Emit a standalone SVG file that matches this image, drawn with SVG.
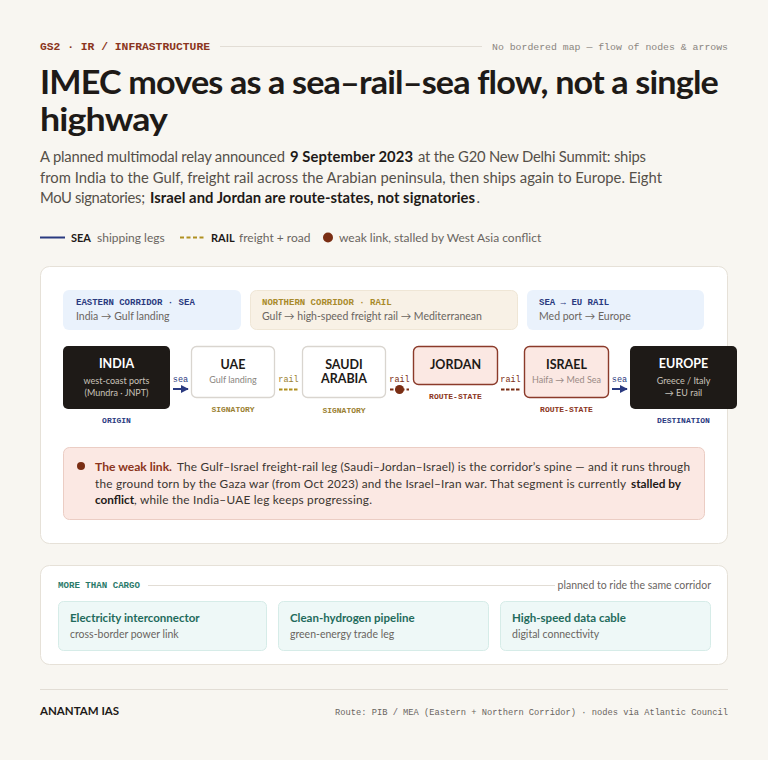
<svg xmlns="http://www.w3.org/2000/svg" width="768" height="760" viewBox="0 0 768 760">
<defs>
<style>
.sans{font-family:Lato,Roboto,"Liberation Sans",sans-serif}
.mono{font-family:"Liberation Mono","DejaVu Sans Mono",monospace}
.b{font-weight:700}
.card{fill:#ffffff;stroke:#e6e1d8;stroke-width:1}
.dark{fill:#1e1a17}
.light{fill:#ffffff;stroke:#d9d5cf;stroke-width:1.3}
.route{fill:#fbe8e3;stroke:#8b3a2a;stroke-width:1.4}
.nt{font-family:Lato,Roboto,"Liberation Sans",sans-serif;font-weight:700;font-size:12.5px;text-anchor:middle}
.ns{font-family:Lato,Roboto,"Liberation Sans",sans-serif;font-size:9px;text-anchor:middle}
.tag{font-family:"Liberation Mono","DejaVu Sans Mono",monospace;font-weight:700;font-size:8px;text-anchor:middle}
.cl{font-family:"Liberation Mono","DejaVu Sans Mono",monospace;font-size:8.5px;text-anchor:middle}
.sub{fill:#555049;font-size:14.8px}
.strong{fill:#1e1a17;font-weight:700}
.wl{fill:#3a3530;font-size:11.8px}
.wb{fill:#1e1a17;font-weight:700;font-size:11.8px}
.cargo{fill:#eef8f7;stroke:#d6ece8;stroke-width:1}
</style>
<marker id="arr" viewBox="0 0 10 10" refX="9" refY="5" markerWidth="4" markerHeight="4" orient="auto"><path d="M0,0 L10,5 L0,10 z" fill="#2a3a80"/></marker>
</defs>
<rect width="768" height="760" fill="#f8f6f1"/>

<g id="header">
<text x="40" y="50" class="mono b" font-size="11" fill="#8b3520" textLength="170" lengthAdjust="spacingAndGlyphs">GS2 · IR / INFRASTRUCTURE</text>
<line x1="220" y1="46.5" x2="482" y2="46.5" stroke="#e2ddd5" stroke-width="1"/>
<text x="728" y="50" class="mono" font-size="9.5" fill="#8a8580" text-anchor="end" textLength="236" lengthAdjust="spacingAndGlyphs">No bordered map — flow of nodes &amp; arrows</text>
<text x="40" y="94" class="sans" font-weight="700" font-size="32" fill="#1e1a17" letter-spacing="-0.8" textLength="678" lengthAdjust="spacingAndGlyphs">IMEC moves as a sea–rail–sea flow, not a single</text>
<text x="40" y="131" class="sans" font-weight="700" font-size="32" fill="#1e1a17" letter-spacing="-0.8" textLength="127" lengthAdjust="spacingAndGlyphs">highway</text>
<text x="40" y="162" class="sans sub" textLength="245" lengthAdjust="spacing">A planned multimodal relay announced</text>
<text x="290" y="162" class="sans sub strong" textLength="123" lengthAdjust="spacing">9 September 2023</text>
<text x="418" y="162" class="sans sub" textLength="228" lengthAdjust="spacing">at the G20 New Delhi Summit: ships</text>
<text x="40" y="183" class="sans sub" textLength="622" lengthAdjust="spacing">from India to the Gulf, freight rail across the Arabian peninsula, then ships again to Europe. Eight</text>
<text x="40" y="203" class="sans sub" textLength="105" lengthAdjust="spacing">MoU signatories;</text>
<text x="150" y="203" class="sans sub strong" textLength="325" lengthAdjust="spacing">Israel and Jordan are route-states, not signatories</text>
<text x="476.5" y="203" class="sans sub">.</text>
</g>

<g id="legend">
<line x1="40" y1="237.5" x2="65" y2="237.5" stroke="#2a3a80" stroke-width="2"/>
<text x="71" y="241.5" class="sans b" font-size="11" fill="#1e1a17">SEA</text>
<text x="97" y="241.5" class="sans" font-size="12" fill="#6a655f">shipping legs</text>
<line x1="180" y1="237.5" x2="205" y2="237.5" stroke="#b09020" stroke-width="2" stroke-dasharray="4,2.5"/>
<text x="211" y="241.5" class="sans b" font-size="11" fill="#1e1a17">RAIL</text>
<text x="239" y="241.5" class="sans" font-size="12" fill="#6a655f">freight + road</text>
<circle cx="328" cy="237.5" r="5" fill="#7a2e14"/>
<text x="339" y="241.5" class="sans" font-size="12" fill="#6a655f">weak link, stalled by West Asia conflict</text>
</g>

<rect x="40.5" y="266.5" width="687" height="277" rx="9" class="card"/>

<g id="corridor-eastern">
<rect x="63" y="290" width="178" height="40" rx="6" fill="#eaf2fc"/>
<text x="76" y="305" class="mono b" font-size="9" fill="#2a3a80">EASTERN CORRIDOR · SEA</text>
<text x="76" y="320" class="sans" font-size="10.5" fill="#6a655f">India → Gulf landing</text>
</g>
<g id="corridor-northern">
<rect x="250.5" y="290.5" width="267" height="39" rx="6" fill="#f8f1e6" stroke="#efe6d6"/>
<text x="262" y="305" class="mono b" font-size="9" fill="#a88a2a">NORTHERN CORRIDOR · RAIL</text>
<text x="262" y="320" class="sans" font-size="10.5" fill="#6a655f">Gulf → high-speed freight rail → Mediterranean</text>
</g>
<g id="corridor-sea-eu">
<rect x="527" y="290" width="177" height="40" rx="6" fill="#eaf2fc"/>
<text x="539" y="305" class="mono b" font-size="9" fill="#2a3a80">SEA → EU RAIL</text>
<text x="539" y="320" class="sans" font-size="10.5" fill="#6a655f">Med port → Europe</text>
</g>

<g id="node-india">
<rect x="63" y="346" width="107" height="63" rx="5" class="dark"/>
<text x="116.5" y="368" class="nt" fill="#ffffff">INDIA</text>
<text x="116.5" y="384" class="ns" fill="#c9c2ba">west-coast ports</text>
<text x="116.5" y="396" class="ns" fill="#c9c2ba">(Mundra · JNPT)</text>
<text x="116.5" y="423" class="tag" fill="#2a3a80">ORIGIN</text>
</g>
<g id="node-uae">
<rect x="191.5" y="346.5" width="83" height="51" rx="5" class="light"/>
<text x="233" y="369" class="nt" fill="#1e1a17">UAE</text>
<text x="233" y="383" class="ns" fill="#8a8580">Gulf landing</text>
<text x="233" y="412" class="tag" fill="#9a8030">SIGNATORY</text>
</g>
<g id="node-saudi">
<rect x="302.5" y="346.5" width="83" height="51" rx="5" class="light"/>
<text x="344" y="369" class="nt" fill="#1e1a17">SAUDI</text>
<text x="344" y="383" class="nt" fill="#1e1a17">ARABIA</text>
<text x="344" y="413" class="tag" fill="#9a8030">SIGNATORY</text>
</g>
<g id="node-jordan">
<rect x="413.5" y="346.5" width="84" height="38" rx="5" class="route"/>
<text x="455.5" y="369" class="nt" fill="#1e1a17">JORDAN</text>
<text x="455.5" y="399" class="tag" fill="#8b3520">ROUTE-STATE</text>
</g>
<g id="node-israel">
<rect x="524.5" y="346.5" width="84" height="51" rx="5" class="route"/>
<text x="566.5" y="369" class="nt" fill="#1e1a17">ISRAEL</text>
<text x="566.5" y="383" class="ns" fill="#9a8a85">Haifa → Med Sea</text>
<text x="566.5" y="412" class="tag" fill="#8b3520">ROUTE-STATE</text>
</g>
<g id="node-europe">
<rect x="630" y="346" width="107" height="63" rx="5" class="dark"/>
<text x="683.5" y="368" class="nt" fill="#ffffff">EUROPE</text>
<text x="683.5" y="384" class="ns" fill="#c9c2ba">Greece / Italy</text>
<text x="683.5" y="396" class="ns" fill="#c9c2ba">→ EU rail</text>
<text x="683.5" y="423" class="tag" fill="#2a3a80">DESTINATION</text>
</g>

<g id="connectors">
<text x="180.5" y="382" class="cl" fill="#2a3a80">sea</text>
<line x1="173" y1="389" x2="188" y2="389" stroke="#2a3a80" stroke-width="2" marker-end="url(#arr)"/>
<text x="288.5" y="382" class="cl" fill="#9a8030">rail</text>
<line x1="279" y1="389.5" x2="298" y2="389.5" stroke="#b09020" stroke-width="2" stroke-dasharray="3.5,1.5"/>
<text x="399.5" y="382" class="cl" fill="#7a2e14">rail</text>
<line x1="390" y1="389.5" x2="409" y2="389.5" stroke="#7a2e14" stroke-width="2" stroke-dasharray="3.5,2"/>
<circle cx="399.5" cy="389.5" r="4.5" fill="#7a2e14"/>
<text x="510.5" y="382" class="cl" fill="#7a2e14">rail</text>
<line x1="501" y1="389.5" x2="520" y2="389.5" stroke="#7a2e14" stroke-width="2" stroke-dasharray="3.5,1.5"/>
<text x="619.5" y="382" class="cl" fill="#2a3a80">sea</text>
<line x1="612" y1="389" x2="627" y2="389" stroke="#2a3a80" stroke-width="2" marker-end="url(#arr)"/>
</g>

<g id="weak-link">
<rect x="63.5" y="447.5" width="641" height="72" rx="6" fill="#fbe8e3" stroke="#ebcdc4"/>
<circle cx="81" cy="466" r="4" fill="#7a2e14"/>
<text x="95" y="471" class="sans wb" style="fill:#8b3520" textLength="77" lengthAdjust="spacingAndGlyphs">The weak link.</text>
<text x="177" y="471" class="sans wl" textLength="513" lengthAdjust="spacing">The Gulf–Israel freight-rail leg (Saudi–Jordan–Israel) is the corridor’s spine — and it runs through</text>
<text x="95" y="488" class="sans wl" textLength="531" lengthAdjust="spacing">the ground torn by the Gaza war (from Oct 2023) and the Israel–Iran war. That segment is currently</text>
<text x="631" y="488" class="sans wb" textLength="50" lengthAdjust="spacing">stalled by</text>
<text x="95" y="504" class="sans wb" textLength="39" lengthAdjust="spacingAndGlyphs">conflict</text>
<text x="134" y="504" class="sans wl" textLength="238" lengthAdjust="spacing">, while the India–UAE leg keeps progressing.</text>
</g>

<g id="more-than-cargo">
<rect x="40.5" y="565.5" width="687" height="99" rx="9" class="card"/>
<text x="58" y="588" class="mono b" font-size="9" fill="#2a7a6a" textLength="82" lengthAdjust="spacingAndGlyphs">MORE THAN CARGO</text>
<line x1="148" y1="585.5" x2="555" y2="585.5" stroke="#e2ddd5"/>
<text x="711" y="589" class="sans" font-size="10.5" fill="#6a655f" text-anchor="end">planned to ride the same corridor</text>
<g id="cargo-electricity">
<rect x="58.5" y="601.5" width="208" height="49" rx="5" class="cargo"/>
<text x="70" y="622" class="sans" font-weight="700" font-size="11.5" fill="#1f6b5c">Electricity interconnector</text>
<text x="70" y="638" class="sans" font-size="10.5" fill="#6a655f">cross-border power link</text>
</g>
<g id="cargo-hydrogen">
<rect x="278.5" y="601.5" width="210" height="49" rx="5" class="cargo"/>
<text x="290" y="622" class="sans" font-weight="700" font-size="11.5" fill="#1f6b5c">Clean-hydrogen pipeline</text>
<text x="290" y="638" class="sans" font-size="10.5" fill="#6a655f">green-energy trade leg</text>
</g>
<g id="cargo-data">
<rect x="500.5" y="601.5" width="210" height="49" rx="5" class="cargo"/>
<text x="512" y="622" class="sans" font-weight="700" font-size="11.5" fill="#1f6b5c">High-speed data cable</text>
<text x="512" y="638" class="sans" font-size="10.5" fill="#6a655f">digital connectivity</text>
</g>
</g>

<g id="footer">
<line x1="40" y1="689.5" x2="728" y2="689.5" stroke="#e2ddd5"/>
<text x="40" y="715" class="sans b" font-size="11.5" fill="#1e1a17">ANANTAM IAS</text>
<text x="728" y="715" class="mono" font-size="9" fill="#6a655f" text-anchor="end" textLength="393" lengthAdjust="spacingAndGlyphs">Route: PIB / MEA (Eastern + Northern Corridor) · nodes via Atlantic Council</text>
</g>
</svg>
